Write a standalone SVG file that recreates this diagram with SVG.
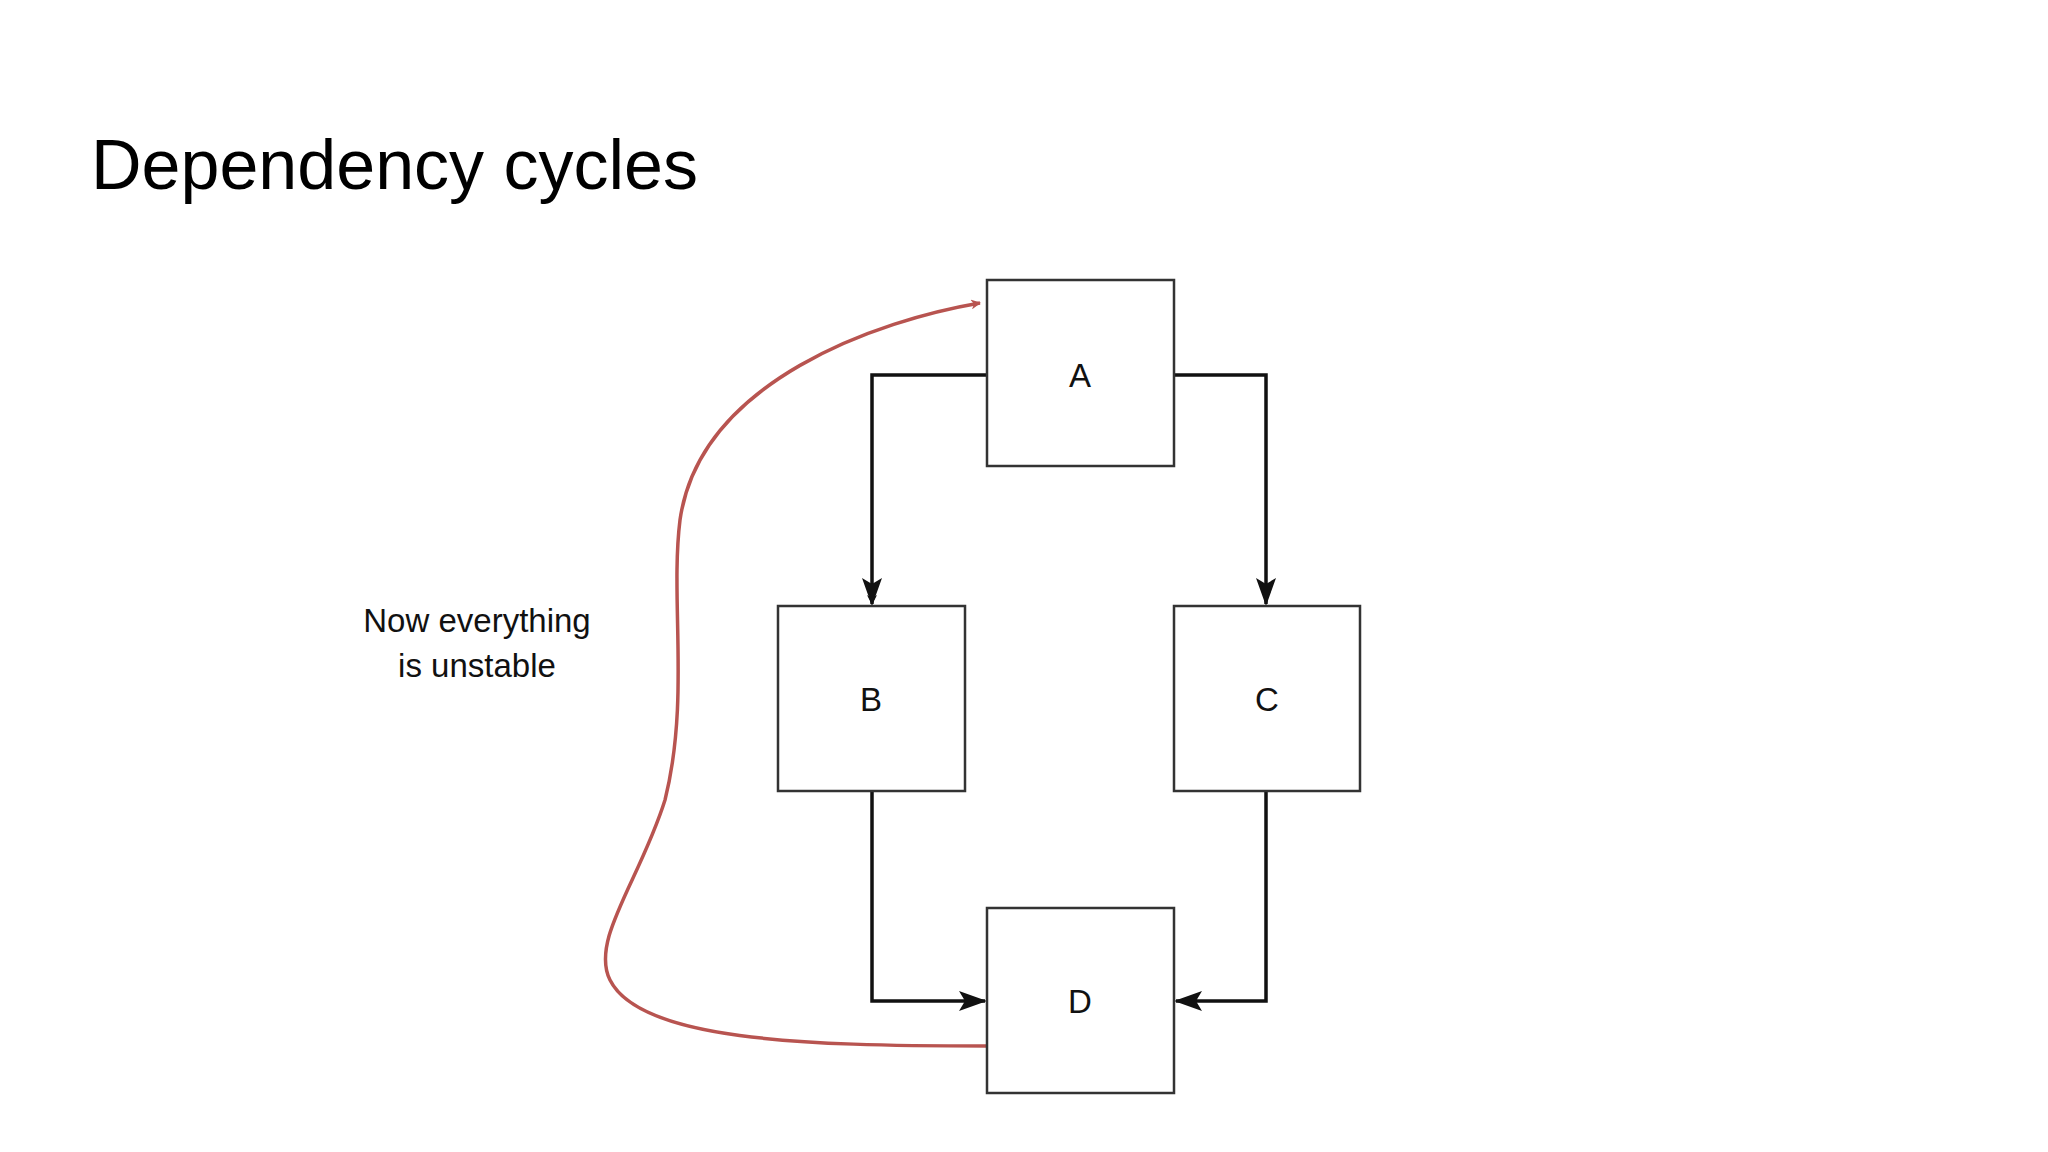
<svg xmlns="http://www.w3.org/2000/svg" width="2048" height="1152" viewBox="0 0 2048 1152">
<style>
.box{fill:#fff;stroke:#333;stroke-width:2.5}
.lbl{font-family:"Liberation Sans",Arial,sans-serif;font-size:33px;fill:#111;text-anchor:middle}
.edge{fill:none;stroke:#111;stroke-width:3.5}
</style>
<defs>
<marker id="ah" markerWidth="10" markerHeight="10" refX="9" refY="5" orient="auto" markerUnits="userSpaceOnUse" viewBox="0 0 10 10"><path d="M0,0 L10,5 L0,10 L3,5 Z" fill="#111"/></marker>
<marker id="ahr" markerWidth="10" markerHeight="10" refX="9" refY="5" orient="auto" viewBox="0 0 10 10" markerUnits="userSpaceOnUse"><path d="M0,0 L10,5 L0,10 L3,5 Z" fill="#b85450"/></marker>
</defs>
<rect width="2048" height="1152" fill="#fff"/>
<text x="91" y="189" font-family="Liberation Sans,Arial,sans-serif" font-size="70" fill="#000">Dependency cycles</text>
<text class="lbl" x="477" y="632">Now everything</text>
<text class="lbl" x="477" y="677">is unstable</text>
<g id="connectors">
<path class="edge" d="M987,375 H872 V604" marker-end="url(#ah)" style="marker-end:url(#ah)"/>
<path class="edge" d="M1174,375 H1266 V604"/>
<path class="edge" d="M872,791 V1001 H985"/>
<path class="edge" d="M1266,791 V1001 H1176"/>
<path d="M987,1046 C800,1046 640,1040 610,980 C590,940 640,880 665,800 C690,700 670,600 680,520 C700,380 880,320 980,303" fill="none" stroke="#b85450" stroke-width="3.5" marker-end="url(#ahr)"/>
<g fill="#111">
<path d="M872,606 L862,578 L872,584 L882,578 Z"/>
<path d="M1266,606 L1256,578 L1266,584 L1276,578 Z"/>
<path d="M987,1001 L959,991 L965,1001 L959,1011 Z"/>
<path d="M1174,1001 L1202,991 L1196,1001 L1202,1011 Z"/>
</g>
</g>
<g id="A"><rect class="box" x="987" y="280" width="187" height="186"/><text class="lbl" x="1080" y="387">A</text></g>
<g id="B"><rect class="box" x="778" y="606" width="187" height="185"/><text class="lbl" x="871" y="711">B</text></g>
<g id="C"><rect class="box" x="1174" y="606" width="186" height="185"/><text class="lbl" x="1267" y="711">C</text></g>
<g id="D"><rect class="box" x="987" y="908" width="187" height="185"/><text class="lbl" x="1080" y="1013">D</text></g>
</svg>
